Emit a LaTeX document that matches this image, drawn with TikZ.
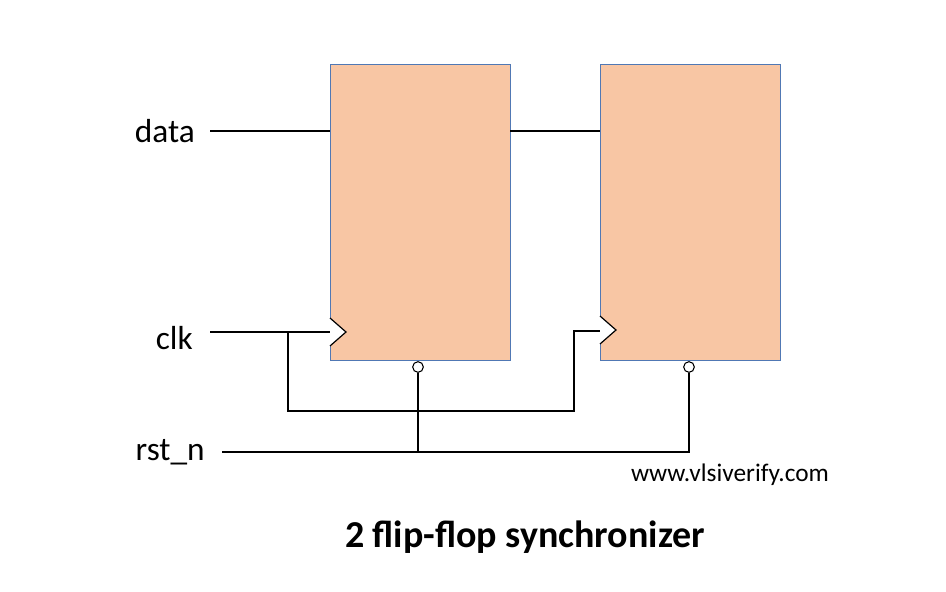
\documentclass[tikz,border=0pt]{standalone}
\usepackage{xcolor}
\usepackage{fontspec}
\setmainfont{Carlito}
\definecolor{ffpeach}{RGB}{248,198,164}
\definecolor{ffedge}{RGB}{80,120,180}
\tikzset{
  ff/.style={draw=ffedge, fill=ffpeach, minimum width=135pt, minimum height=222pt, inner sep=0pt},
  wire/.style={draw=black, line width=0.9pt},
  bubble/.style={circle, draw=black, fill=white, minimum size=8pt, inner sep=0pt, line width=0.8pt},
  lbl/.style={inner sep=0.75pt, font=\fontsize{25}{29}\selectfont}
}

\begin{document}
\begin{tikzpicture}[x=0.75pt,y=0.75pt,yscale=-1,xscale=1]
\useasboundingbox (0,0) rectangle (946,592);

%Flip-flops
\node [ff] (ffa) at (420,212) {};
\node [ff] (ffb) at (690,212) {};
%Clock triangles
\draw [wire, fill=white] (330,318) -- (346,332) -- (330,346) ;
\draw [wire, fill=white] (600,316) -- (616,330) -- (600,344) ;
%Reset bubbles
\node [bubble] (rba) at (418,367) {};
\node [bubble] (rbb) at (689,367) {};

% Text Nodes
\node [lbl, anchor=east] (data) at (196,131) {data};
\node [lbl, anchor=east] (clk) at (194,338) {clk};
\node [lbl, anchor=east] (rst) at (206,452) {rst\_n};
\node [inner sep=0.75pt, font=\fontsize{19}{23}\selectfont] (web) at (730,475) {www.vlsiverify.com};
\node [inner sep=0.75pt, font=\fontsize{28.5}{33}\selectfont\bfseries] (title) at (525,537) {2 flip-flop synchronizer};

%Coordinates
\coordinate (din) at (210,131);
\coordinate (ckin) at (210,332);
\coordinate (rsin) at (222,452);
\coordinate (cka) at (330,332);
\coordinate (ckb) at (600,331);
\coordinate (tap) at (288,332);

%Wires
\draw [wire] (din) -- (din -| ffa.west) ;
\draw [wire] (ffa.east |- din) -- (ffb.west |- din) ;
\draw [wire] (ckin) -- (cka) ;
\draw [wire] (tap) -- (288,411) -- (574,411) -- (574,331) -- (ckb) ;
\draw [wire] (rsin) -- (689,452) -- (rbb.south) ;
\draw [wire] (rba.south) -- (418,452) ;

\end{tikzpicture}
\end{document}
